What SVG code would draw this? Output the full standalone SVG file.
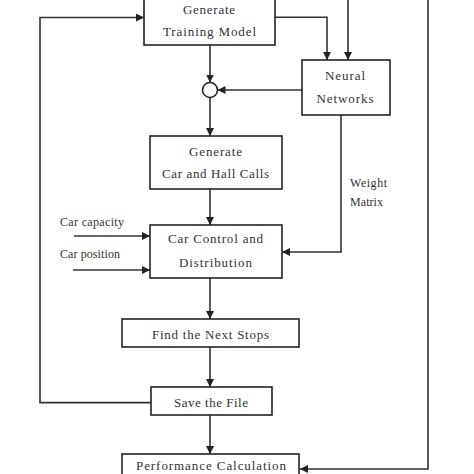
<svg xmlns="http://www.w3.org/2000/svg" width="474" height="474" viewBox="0 0 474 474">
<style>
.box{fill:#fff;stroke:#222;stroke-width:1.6}
.ln{fill:none;stroke:#333;stroke-width:1.6}
text{font-family:"Liberation Serif","Times New Roman",serif;font-size:13px;fill:#333;text-anchor:middle}
.sm{font-size:12px;text-anchor:start}
</style>
<defs>
<marker id="ah" viewBox="0 0 10 10" refX="10" refY="5" markerWidth="8" markerHeight="8" markerUnits="userSpaceOnUse" orient="auto">
<path d="M0,0 L10,5 L0,10 z" fill="#222"/>
</marker>
</defs>
<rect width="474" height="474" fill="#fff"/>
<g id="connectors">
<polyline class="ln" points="151,402.6 40,402.6 40,17.5 144,17.5" marker-end="url(#ah)"/>
<polyline class="ln" points="275,17.3 327,17.3 327,60" marker-end="url(#ah)"/>
<line class="ln" x1="348" y1="0" x2="348" y2="60" marker-end="url(#ah)"/>
<polyline class="ln" points="428,0 428,469 300,469" marker-end="url(#ah)"/>
<line class="ln" x1="210" y1="45" x2="210" y2="82.5" marker-end="url(#ah)"/>
<line class="ln" x1="302" y1="90" x2="217.5" y2="90" marker-end="url(#ah)"/>
<line class="ln" x1="210" y1="97.5" x2="210" y2="136" marker-end="url(#ah)"/>
<line class="ln" x1="210" y1="189" x2="210" y2="225" marker-end="url(#ah)"/>
<polyline class="ln" points="341,115 341,252 282,252" marker-end="url(#ah)"/>
<line class="ln" x1="74" y1="236" x2="150" y2="236" marker-end="url(#ah)"/>
<line class="ln" x1="73" y1="270" x2="150" y2="270" marker-end="url(#ah)"/>
<line class="ln" x1="210" y1="278" x2="210" y2="319" marker-end="url(#ah)"/>
<line class="ln" x1="210" y1="347" x2="210" y2="387" marker-end="url(#ah)"/>
<line class="ln" x1="210" y1="415" x2="210" y2="454" marker-end="url(#ah)"/>
</g>
<g id="training">
<rect class="box" x="144" y="-5" width="131" height="50"/>
<text x="209" y="14" textLength="52" lengthAdjust="spacing">Generate</text>
<text x="209.5" y="36" textLength="93" lengthAdjust="spacing">Training Model</text>
</g>
<g id="neural">
<rect class="box" x="302" y="60" width="88" height="55"/>
<text x="345" y="80" textLength="40" lengthAdjust="spacing">Neural</text>
<text x="345" y="103" textLength="57" lengthAdjust="spacing">Networks</text>
</g>
<g id="sum">
<circle cx="210" cy="90" r="7.5" fill="#fff" stroke="#222" stroke-width="1.6"/>
</g>
<g id="calls">
<rect class="box" x="150" y="136" width="132" height="53"/>
<text x="215.5" y="156" textLength="53" lengthAdjust="spacing">Generate</text>
<text x="215.5" y="178" textLength="107" lengthAdjust="spacing">Car and Hall Calls</text>
</g>
<g id="weight">
<text class="sm" x="350" y="187" textLength="37" lengthAdjust="spacing">Weight</text>
<text class="sm" x="350" y="206" textLength="33" lengthAdjust="spacing">Matrix</text>
</g>
<g id="inputs">
<text class="sm" x="60" y="226" textLength="64" lengthAdjust="spacing">Car capacity</text>
<text class="sm" x="60" y="258" textLength="60" lengthAdjust="spacing">Car position</text>
</g>
<g id="control">
<rect class="box" x="150" y="225" width="132" height="53"/>
<text x="215.5" y="243" textLength="95" lengthAdjust="spacing">Car Control and</text>
<text x="215.5" y="267" textLength="73" lengthAdjust="spacing">Distribution</text>
</g>
<g id="stops">
<rect class="box" x="122" y="319" width="177" height="28"/>
<text x="210.5" y="339" textLength="117" lengthAdjust="spacing">Find the Next Stops</text>
</g>
<g id="save">
<rect class="box" x="151" y="387" width="121" height="28"/>
<text x="211" y="407" textLength="74" lengthAdjust="spacing">Save the File</text>
</g>
<g id="perf">
<rect class="box" x="122" y="454" width="177" height="30"/>
<text x="211" y="470" textLength="150" lengthAdjust="spacing">Performance Calculation</text>
</g>
</svg>
